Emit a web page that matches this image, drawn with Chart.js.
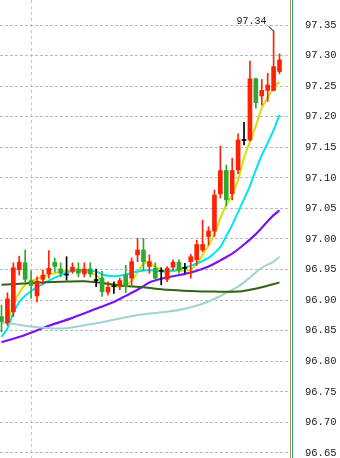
<!DOCTYPE html>
<html>
<head>
<meta charset="utf-8">
<script src="https://cdn.jsdelivr.net/npm/chart.js@4"></script>
<style>
  html, body { margin: 0; padding: 0; background: #fff; }
  canvas { display: block; }
</style>
</head>
<body>
<canvas id="chart1" width="340" height="458"></canvas>
<script>
// price axis
const yMin = 96.6418;
const yMax = 97.3909;
const tickValues = [96.65, 96.70, 96.75, 96.80, 96.85, 96.90, 96.95, 97.00, 97.05, 97.10, 97.15, 97.20, 97.25, 97.30, 97.35];
const sessionBreaks = [5];

// candles, one per bar index 0..47
const opens = [96.873, 96.863, 96.881, 96.950, 96.961, 96.932, 96.907, 96.934, 96.943, 96.962,
    96.951, 96.941, 96.947, 96.951, 96.943, 96.951, 96.932, 96.936, 96.913, 96.922,
    96.924, 96.941, 96.936, 96.974, 96.982, 96.955, 96.952, 96.947, 96.934, 96.954,
    96.962, 96.952, 96.963, 96.966, 96.982, 97.004, 97.013, 97.074, 97.112, 97.074,
    97.113, 97.161, 97.162, 97.262, 97.234, 97.243, 97.243, 97.274];
const highs = [96.892, 96.912, 96.961, 96.972, 96.982, 96.948, 96.938, 96.949, 96.981, 96.969,
    96.961, 96.971, 96.961, 96.961, 96.961, 96.961, 96.951, 96.947, 96.930, 96.930,
    96.936, 96.957, 96.969, 97.001, 97.001, 96.974, 96.961, 96.953, 96.955, 96.966,
    96.966, 96.960, 96.975, 96.998, 97.031, 97.020, 97.080, 97.152, 97.121, 97.132,
    97.172, 97.191, 97.291, 97.263, 97.261, 97.271, 97.340, 97.303];
const lows = [96.848, 96.859, 96.873, 96.941, 96.930, 96.903, 96.897, 96.926, 96.936, 96.946,
    96.938, 96.933, 96.944, 96.938, 96.938, 96.938, 96.922, 96.906, 96.908, 96.911,
    96.917, 96.912, 96.925, 96.963, 96.949, 96.944, 96.933, 96.925, 96.930, 96.949,
    96.944, 96.944, 96.936, 96.957, 96.979, 96.990, 97.004, 97.067, 97.054, 97.064,
    97.107, 97.154, 97.160, 97.214, 97.219, 97.225, 97.242, 97.270];
const closes = [96.865, 96.902, 96.953, 96.962, 96.934, 96.924, 96.931, 96.941, 96.952, 96.955,
    96.944, 96.941, 96.954, 96.944, 96.951, 96.943, 96.932, 96.914, 96.921, 96.922,
    96.932, 96.922, 96.963, 96.982, 96.963, 96.963, 96.936, 96.947, 96.952, 96.962,
    96.949, 96.952, 96.971, 96.991, 96.991, 97.013, 97.072, 97.112, 97.064, 97.112,
    97.162, 97.161, 97.262, 97.223, 97.243, 97.252, 97.282, 97.293];

// moving averages, read at bar indices
const maYellowIdx = [1, 2, 3, 4, 6, 8, 10, 12, 14, 16, 17, 18, 20, 22, 23, 24, 25, 26, 28, 30, 32, 33, 34, 35, 36, 37, 38, 39, 40, 41, 42, 43, 44, 45, 46, 47];
const maYellow = [96.864, 96.892, 96.912, 96.925, 96.935, 96.941, 96.947, 96.949, 96.947, 96.941, 96.931, 96.926, 96.922, 96.931, 96.946, 96.959, 96.961, 96.954, 96.947, 96.948, 96.950, 96.959, 96.974, 96.989, 97.008, 97.034, 97.056, 97.072, 97.097, 97.133, 97.159, 97.185, 97.214, 97.231, 97.247, 97.257];

const maCyanIdx = [0, 1, 2, 3, 4, 5, 6, 8, 10, 12, 14, 16, 17, 19, 21, 23, 25, 27, 29, 30, 32, 34, 35, 36, 37, 38, 39, 40, 41, 42, 43, 44, 45, 46, 47];
const maCyan = [96.840, 96.854, 96.879, 96.897, 96.907, 96.915, 96.921, 96.932, 96.941, 96.948, 96.949, 96.947, 96.942, 96.939, 96.942, 96.947, 96.949, 96.947, 96.948, 96.951, 96.956, 96.964, 96.969, 96.977, 96.987, 97.005, 97.023, 97.044, 97.065, 97.087, 97.113, 97.137, 97.157, 97.178, 97.203];

const maPurpleIdx = [0, 4, 8, 12, 16, 19, 21, 23, 24, 25, 27, 29, 31, 33, 35, 37, 39, 41, 43, 45, 46, 47];
const maPurple = [96.831, 96.843, 96.858, 96.871, 96.886, 96.897, 96.907, 96.917, 96.923, 96.929, 96.935, 96.939, 96.943, 96.948, 96.955, 96.965, 96.976, 96.991, 97.008, 97.029, 97.039, 97.047];

const maTealIdx = [0, 4, 8, 11, 14, 17, 20, 24, 28, 31, 34, 36, 38, 40, 42, 44, 46, 47];
const maTeal = [96.864, 96.858, 96.854, 96.854, 96.859, 96.864, 96.870, 96.877, 96.881, 96.886, 96.894, 96.902, 96.912, 96.922, 96.937, 96.953, 96.963, 96.971];

const maDarkIdx = [0, 5, 10, 14, 17, 20, 24, 28, 32, 36, 40, 42, 44, 47];
const maDark = [96.925, 96.928, 96.930, 96.931, 96.928, 96.924, 96.921, 96.917, 96.915, 96.914, 96.914, 96.917, 96.921, 96.929];

const UP = '#ff2200';
const DOWN = '#2fa82f';
const FLAT = '#000000';

function candleColor(i) {
    if (closes[i] > opens[i]) return UP;
    if (closes[i] < opens[i]) return DOWN;
    return FLAT;
}
const colors = opens.map((o, i) => candleColor(i));

function lineData(idx, vals) {
    return idx.map((x, i) => ({ x: x, y: vals[i] }));
}

function maLine(label, idx, vals, color, width) {
    return {
        type: 'line',
        label: label,
        data: lineData(idx, vals),
        borderColor: color,
        borderWidth: width,
        pointRadius: 0,
        tension: 0.3,
        fill: false,
        order: 2
    };
}

// no extra room around the plot, the axis width is fixed
function noPadding(s) {
    s.paddingTop = 0;
    s.paddingBottom = 0;
    s.paddingLeft = 0;
    s.paddingRight = 0;
}

// right frame lines and the high-price note
const frameLines = {
    id: 'frameLines',
    afterDraw(chart) {
        const { ctx, chartArea, scales } = chart;
        ctx.save();
        ctx.lineWidth = 1;
        ctx.strokeStyle = '#a9a13c';
        ctx.beginPath();
        ctx.moveTo(chartArea.right + 0.5, 0);
        ctx.lineTo(chartArea.right + 0.5, chart.height);
        ctx.stroke();
        ctx.strokeStyle = '#2c9fb0';
        ctx.beginPath();
        ctx.moveTo(chartArea.right + 2.5, 0);
        ctx.lineTo(chartArea.right + 2.5, chart.height);
        ctx.stroke();

        let top = 0;
        for (let i = 1; i < highs.length; i++) {
            if (highs[i] > highs[top]) top = i;
        }
        const px = scales.x.getPixelForValue(top);
        const py = scales.y.getPixelForValue(highs[top]);
        ctx.strokeStyle = '#000';
        ctx.beginPath();
        ctx.moveTo(px - 5, py - 5);
        ctx.lineTo(px, py);
        ctx.stroke();
        ctx.fillStyle = '#222';
        ctx.font = '10px "Liberation Mono"';
        ctx.textAlign = 'right';
        ctx.textBaseline = 'alphabetic';
        ctx.fillText(highs[top].toFixed(2), px - 7, py - 7.5);
        ctx.restore();
    }
};

const data = {
    datasets: [
        {
            label: 'wick',
            data: highs.map((h, i) => ({ x: i, y: [lows[i], h] })),
            backgroundColor: colors,
            barThickness: 1,
            grouped: false,
            order: 1
        },
        {
            label: 'body',
            data: opens.map((o, i) => ({ x: i, y: [o, closes[i]] })),
            backgroundColor: colors,
            barThickness: 4,
            minBarLength: 1,
            grouped: false,
            order: 0
        },
        maLine('ma long', maDarkIdx, maDark, '#2f6412', 2),
        maLine('ma 75', maTealIdx, maTeal, '#a2d3d3', 2),
        maLine('ma 25', maPurpleIdx, maPurple, '#7a12f2', 2.2),
        maLine('ma 10', maCyanIdx, maCyan, '#00e4f4', 2),
        maLine('ma 5', maYellowIdx, maYellow, '#d2e200', 2)
    ]
};

const options = {
    responsive: false,
    animation: false,
    layout: { padding: 0 },
    plugins: {
        legend: { display: false },
        tooltip: { enabled: false }
    },
    scales: {
        x: {
            type: 'linear',
            min: -0.254,
            max: 48.774,
            offset: false,
            afterBuildTicks: s => { s.ticks = sessionBreaks.map(v => ({ value: v })); },
            afterFit: s => { s.height = 0; noPadding(s); },
            ticks: { display: false },
            grid: { color: '#c8c8c8', drawTicks: false, offset: false },
            border: { display: false, dash: [3, 3] }
        },
        y: {
            type: 'linear',
            position: 'right',
            min: yMin,
            max: yMax,
            afterBuildTicks: s => { s.ticks = tickValues.map(v => ({ value: v })); },
            afterFit: s => { s.width = 50; noPadding(s); },
            ticks: {
                padding: 15,
                color: '#222',
                font: { family: 'Liberation Mono', size: 10.5 },
                callback: v => Number(v).toFixed(2)
            },
            grid: { color: '#bcbcbc', drawTicks: false },
            border: { display: false, dash: [3, 2] }
        }
    }
};

const ctx = document.getElementById('chart1').getContext('2d');
const myChart = new Chart(ctx, {
    type: 'bar',
    data: data,
    options: options,
    plugins: [frameLines]
});
</script>
</body>
</html>
